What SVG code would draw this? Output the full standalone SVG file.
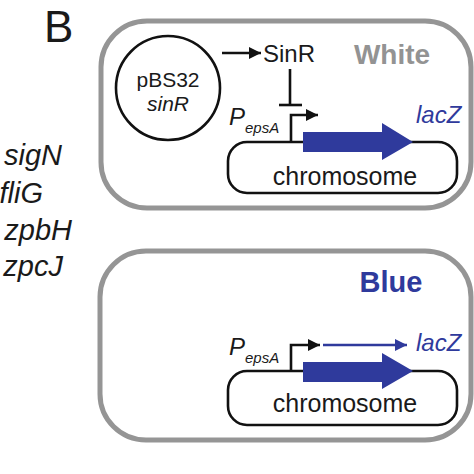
<svg xmlns="http://www.w3.org/2000/svg" width="474" height="474" viewBox="0 0 474 474">
<style>
text{font-family:"Liberation Sans",Arial,sans-serif;fill:#1a1a1a}
.it{font-style:italic}
.cell{fill:none;stroke:#959595;stroke-width:5}
.chr{fill:#fff;stroke:#111;stroke-width:2.6}
.blk{stroke:#111;stroke-width:2.6;fill:none}
.blue{fill:#2f3a9c}
.bt{fill:#2f3a9c}
</style>
<defs>
<marker id="ah" viewBox="0 0 10 10" refX="10" refY="5" markerWidth="12" markerHeight="14" markerUnits="userSpaceOnUse" orient="auto"><path d="M0,0 L10,5 L0,10 z" fill="#111"/></marker>
<marker id="ahb" viewBox="0 0 10 10" refX="10" refY="5" markerWidth="12" markerHeight="14" markerUnits="userSpaceOnUse" orient="auto"><path d="M0,0 L10,5 L0,10 z" fill="#2f3a9c"/></marker>
</defs>
<text x="44" y="42" font-size="44">B</text>
<g id="labels">
<text class="it" x="62" y="165" font-size="29" text-anchor="end">sigN</text>
<text class="it" x="43" y="203" font-size="29" text-anchor="end">fliG</text>
<text class="it" x="72" y="240" font-size="29" text-anchor="end">zpbH</text>
<text class="it" x="63" y="276" font-size="29" text-anchor="end">zpcJ</text>
</g>
<g id="cell-white">
<rect class="cell" x="101" y="21" width="370" height="187" rx="46"/>
<text x="392" y="64" font-size="28" font-weight="bold" text-anchor="middle" style="fill:#939393">White</text>
</g>
<g id="plasmid">
<circle cx="168" cy="88" r="52" fill="#fff" stroke="#111" stroke-width="2.6"/>
<text x="168" y="87" font-size="21" text-anchor="middle">pBS32</text>
<text class="it" x="168" y="111" font-size="21" text-anchor="middle">sinR</text>
</g>
<g id="sinr">
<text x="263" y="62" font-size="24">SinR</text>
</g>
<g id="chromosome-top">
<rect class="chr" x="228" y="142" width="229" height="51" rx="19"/>
<text x="345" y="185" font-size="25" text-anchor="middle">chromosome</text>
<path class="blue" d="M303,132 H382 V123 L413,142 L382,160 V152 H303 z"/>
<text class="it bt" x="416" y="123" font-size="24">lacZ</text>
<text class="it" x="229" y="125" font-size="24">P</text>
<text class="it" x="245" y="133" font-size="15">epsA</text>
</g>
<g id="cell-blue">
<rect class="cell" x="100" y="251" width="371" height="189" rx="46"/>
<text class="bt" x="391" y="292" font-size="29" font-weight="bold" text-anchor="middle">Blue</text>
</g>
<g id="chromosome-bottom">
<rect class="chr" x="228" y="371" width="229" height="54" rx="19"/>
<text x="345" y="412" font-size="25" text-anchor="middle">chromosome</text>
<path class="blue" d="M303,362 H382 V353 L413,371 L382,389 V382 H303 z"/>
<text class="it bt" x="416" y="351" font-size="24">lacZ</text>
<text class="it" x="229" y="355" font-size="24">P</text>
<text class="it" x="245" y="363" font-size="15">epsA</text>
</g>
<g id="connectors">
<line class="blk" x1="222" y1="53" x2="261" y2="53" marker-end="url(#ah)"/>
<line class="blk" x1="290" y1="69" x2="290" y2="105"/>
<line class="blk" x1="279" y1="105" x2="302" y2="105"/>
<polyline class="blk" points="291,142 291,115 318,115" marker-end="url(#ah)"/>
<polyline class="blk" points="291,371 291,345 320,345" marker-end="url(#ah)"/>
<line x1="323" y1="345" x2="407" y2="345" stroke="#2f3a9c" stroke-width="2.6" marker-end="url(#ahb)"/>
</g>
</svg>
